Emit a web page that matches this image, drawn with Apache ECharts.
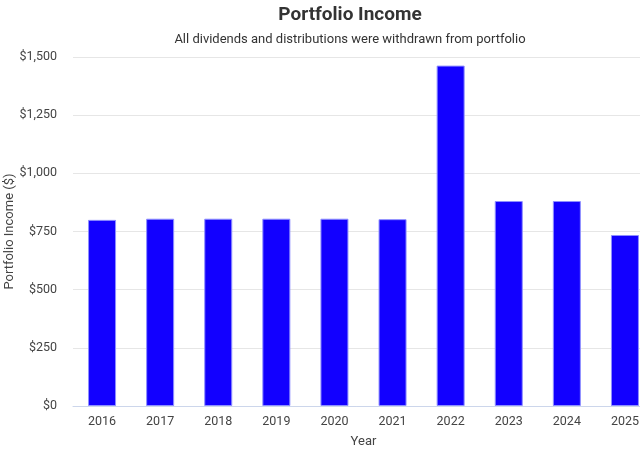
<!DOCTYPE html>
<html lang="en">
<head>
    <meta charset="UTF-8">
    <title>Portfolio Income</title>
    <style>
        body{margin:0;background:#fff}
        #main{width:640px;height:450px}
    </style>
    <script src="https://cdn.jsdelivr.net/npm/echarts@6/dist/echarts.min.js"></script>
</head>
<body>
<div id="main"></div>
<script>
    var years = ['2016','2017','2018','2019','2020','2021','2022','2023','2024','2025'];
    var income = [800, 805, 805, 805, 805, 803, 1463, 881, 881, 735];
    var yTicks = [0, 250, 500, 750, 1000, 1250, 1500];

    var fnt = 'Roboto, "Noto Sans", sans-serif';
    var myChart = echarts.init(document.getElementById('main'));
    myChart.setOption({
        animation: false,
        title: {
            text: 'Portfolio Income',
            subtext: 'All dividends and distributions were withdrawn from portfolio',
            left: 345,
            top: 1,
            textAlign: 'center',
            itemGap: 8,
            textStyle: {fontFamily: fnt, fontSize: 19, fontWeight: 'bold', color: '#333'},
            subtextStyle: {fontFamily: fnt, fontSize: 13, color: '#333'}
        },
        grid: {left: 73, top: 57, width: 581, height: 349, containLabel: false, outerBoundsMode: 'none'},
        xAxis: {
            type: 'category',
            data: years,
            name: 'Year',
            nameLocation: 'middle',
            nameGap: 29,
            nameMoveOverlap: false,
            nameTextStyle: {fontFamily: fnt, fontSize: 13, color: '#444'},
            axisLine: {lineStyle: {color: '#ccd6eb'}},
            axisTick: {show: false},
            axisLabel: {fontFamily: fnt, fontSize: 12.5, color: '#444', margin: 9}
        },
        yAxis: {
            type: 'value',
            min: yTicks[0],
            max: yTicks[yTicks.length - 1],
            interval: 250,
            name: 'Portfolio Income ($)',
            nameLocation: 'middle',
            nameGap: 57,
            nameMoveOverlap: false,
            nameTextStyle: {fontFamily: fnt, fontSize: 13, color: '#444'},
            axisLine: {show: false},
            axisTick: {show: false},
            splitLine: {lineStyle: {color: '#e6e6e6'}},
            axisLabel: {
                fontFamily: fnt, fontSize: 12.5, color: '#444', margin: 16,
                formatter: function (v) { return '$' + v.toLocaleString('en-US'); }
            }
        },
        series: [{
            type: 'bar',
            data: income,
            barWidth: 28,
            itemStyle: {color: '#1200ff', borderColor: '#8f8fff', borderWidth: 1}
        }]
    });
</script>
</body>
</html>
